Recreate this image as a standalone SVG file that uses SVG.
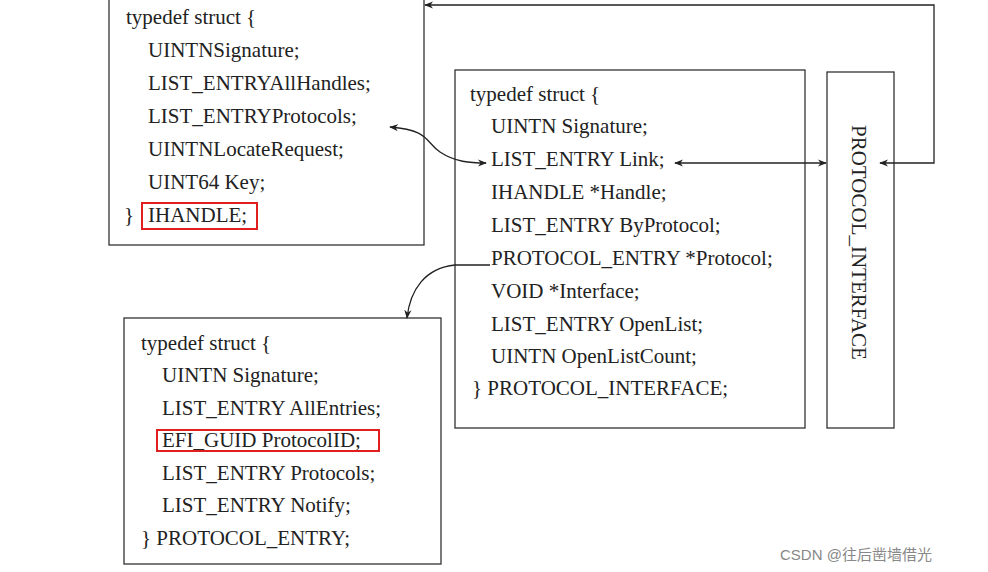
<svg xmlns="http://www.w3.org/2000/svg" width="988" height="572" viewBox="0 0 988 572">
<defs>
<marker id="a" viewBox="0 0 10 10" refX="9" refY="5" markerWidth="9" markerHeight="9" orient="auto-start-reverse" markerUnits="userSpaceOnUse"><path d="M0,1 L10,5 L0,9 L3,5 z" fill="#222"/></marker>
</defs>
<style>
.b{fill:#fff;stroke:#333;stroke-width:1.3}
.t{font-family:"Liberation Serif",serif;font-size:21px;fill:#222}
.r{fill:none;stroke:#e02020;stroke-width:2}
.c{fill:none;stroke:#222;stroke-width:1.3}
</style>
<rect width="988" height="572" fill="#fff"/>
<g id="ihandle">
<rect class="b" x="109" y="-2" width="315" height="247"/>
<text class="t" x="126" y="24">typedef struct {</text>
<text class="t" x="148" y="57">UINTNSignature;</text>
<text class="t" x="148" y="90">LIST_ENTRYAllHandles;</text>
<text class="t" x="148" y="123">LIST_ENTRYProtocols;</text>
<text class="t" x="148" y="156">UINTNLocateRequest;</text>
<text class="t" x="148" y="189">UINT64 Key;</text>
<text class="t" x="124" y="222">}</text><text class="t" x="148" y="222">IHANDLE;</text>
<rect class="r" x="142" y="203" width="115" height="26"/>
</g>
<g id="protocol_interface">
<rect class="b" x="455" y="70" width="350" height="358"/>
<text class="t" x="470" y="101">typedef struct {</text>
<text class="t" x="491" y="133">UINTN Signature;</text>
<text class="t" x="491" y="166">LIST_ENTRY Link;</text>
<text class="t" x="491" y="199">IHANDLE *Handle;</text>
<text class="t" x="491" y="232">LIST_ENTRY ByProtocol;</text>
<text class="t" x="491" y="265">PROTOCOL_ENTRY *Protocol;</text>
<text class="t" x="491" y="298">VOID *Interface;</text>
<text class="t" x="491" y="331">LIST_ENTRY OpenList;</text>
<text class="t" x="491" y="363">UINTN  OpenListCount;</text>
<text class="t" x="472" y="395">} PROTOCOL_INTERFACE;</text>
</g>
<g id="pi_label">
<rect class="b" x="827" y="72" width="67" height="356"/>
<text class="t" transform="translate(852,125) rotate(90)">PROTOCOL_INTERFACE</text>
</g>
<g id="protocol_entry">
<rect class="b" x="124" y="318" width="317" height="246"/>
<text class="t" x="141" y="350">typedef struct {</text>
<text class="t" x="162" y="382">UINTN Signature;</text>
<text class="t" x="162" y="415">LIST_ENTRY AllEntries;</text>
<text class="t" x="162" y="447">EFI_GUID ProtocolID;</text>
<text class="t" x="162" y="480">LIST_ENTRY Protocols;</text>
<text class="t" x="162" y="512">LIST_ENTRY Notify;</text>
<text class="t" x="141" y="545">} PROTOCOL_ENTRY;</text>
<rect class="r" x="157" y="430" width="222" height="21"/>
</g>
<g id="connectors">
<path class="c" d="M390,127 C430,130 425,142 440,152 C455,162 470,163 486,163" marker-start="url(#a)" marker-end="url(#a)"/>
<path class="c" d="M675,163 L826,163" marker-start="url(#a)" marker-end="url(#a)"/>
<path class="c" d="M880,163 L934,163 L934,5 L425,5" marker-start="url(#a)" marker-end="url(#a)"/>
<path class="c" d="M490,265 L455,265 C425,268 410,290 407,318" marker-end="url(#a)"/>
</g>
<text x="780" y="560" style="font-family:'Liberation Sans','Noto Sans CJK SC',sans-serif;font-size:15px;fill:#888">CSDN @往后凿墙借光</text>
</svg>
